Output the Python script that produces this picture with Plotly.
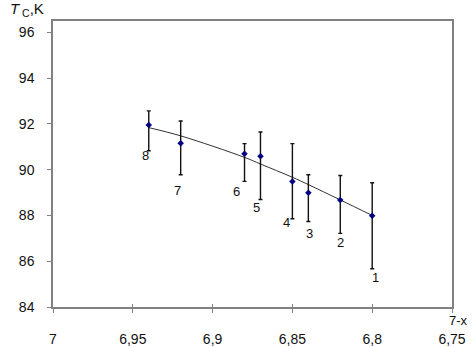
import plotly.graph_objects as go

# Oxygen content (7-x) and critical temperature Tc with error limits
sample_id = ["1", "2", "3", "4", "5", "6", "7", "8"]
oxygen = [6.80, 6.82, 6.84, 6.85, 6.87, 6.88, 6.92, 6.94]
tc = [87.99, 88.68, 88.99, 89.48, 90.59, 90.70, 91.16, 91.96]
tc_upper = [89.43, 89.75, 89.78, 91.14, 91.65, 91.14, 92.13, 92.57]
tc_lower = [85.67, 87.22, 87.74, 87.86, 88.70, 89.49, 89.78, 90.83]

# Smoothed trend curve
trend_x = [6.80, 6.82, 6.84, 6.85, 6.87, 6.88, 6.92, 6.94]
trend_tc = [88.00, 88.68, 89.35, 89.67, 90.25, 90.54, 91.48, 91.84]

# Number label positions next to each point
label_x = [6.7981, 6.8196, 6.8394, 6.8540, 6.8727, 6.8852, 6.9217, 6.9419]
label_tc = [85.27, 86.80, 87.20, 87.71, 88.33, 89.06, 89.09, 90.61]

x_ticks = [7, 6.95, 6.9, 6.85, 6.8, 6.75]
x_ticktext = ["7", "6,95", "6,9", "6,85", "6,8", "6,75"]
y_ticks = [84, 86, 88, 90, 92, 94, 96]

err_plus = [u - t for u, t in zip(tc_upper, tc)]
err_minus = [t - l for t, l in zip(tc, tc_lower)]

FONT = "Liberation Sans, Arial, sans-serif"

fig = go.Figure()
fig.add_trace(go.Scatter(
    x=trend_x, y=trend_tc, mode="lines", line=dict(color="#333333", width=1, shape="spline"),
    hoverinfo="skip", showlegend=False,
))
fig.add_trace(go.Scatter(
    x=oxygen, y=tc, mode="markers",
    marker=dict(symbol="diamond", size=5, color="#000080"),
    error_y=dict(type="data", symmetric=False, array=err_plus, arrayminus=err_minus,
                 color="#111111", thickness=1.4, width=2),
    showlegend=False,
))

for sid, lx, ly in zip(sample_id, label_x, label_tc):
    fig.add_annotation(x=lx, y=ly, text=sid, showarrow=False,
                       font=dict(family=FONT, size=13, color="#111111"))

fig.add_annotation(xref="paper", yref="paper", x=(8 - 53) / 399, y=1 + 11 / 286,
                   xanchor="left", yanchor="middle", showarrow=False,
                   text="<i>T</i><sub> C</sub>,K",
                   font=dict(family=FONT, size=15, color="#111111"))
fig.add_annotation(xref="paper", yref="paper", x=1 + 6 / 399, y=-13 / 286,
                   xanchor="center", yanchor="middle", showarrow=False,
                   text="7-x", font=dict(family=FONT, size=13, color="#111111"))

axis_common = dict(showgrid=False, zeroline=False, showline=True, linecolor="#808080",
                   linewidth=1.5, mirror=True, ticks="outside", tickcolor="#808080",
                   tickwidth=1.3, ticklen=4, automargin=False,
                   tickfont=dict(family=FONT, size=14, color="#111111"))

fig.update_layout(
    width=474, height=347,
    margin=dict(l=53, r=22, t=21, b=40),
    paper_bgcolor="white", plot_bgcolor="white",
    xaxis=dict(range=[7, 6.75], tickvals=x_ticks, ticktext=x_ticktext,
               ticklabelstandoff=14, **axis_common),
    yaxis=dict(range=[84, 96.5], tickvals=y_ticks, ticklabelstandoff=10, **axis_common),
    xaxis2=dict(range=[7, 6.75], overlaying="x", side="bottom", tickvals=x_ticks,
                showticklabels=False, showgrid=False, zeroline=False, showline=False,
                ticks="inside", ticklen=3, tickcolor="#808080", tickwidth=1.3,
                automargin=False),
)
fig.add_trace(go.Scatter(x=[6.9], y=[84], xaxis="x2", mode="markers",
                         marker=dict(opacity=0), hoverinfo="skip", showlegend=False))

fig.write_html("out.html")
